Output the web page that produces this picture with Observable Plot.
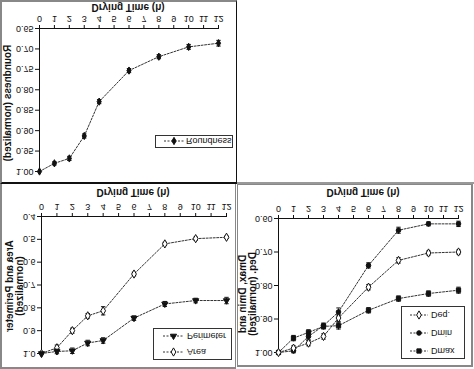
<!DOCTYPE html>
<html><head><meta charset="utf-8">
<script src="https://cdn.jsdelivr.net/npm/d3@7"></script>
<script src="https://cdn.jsdelivr.net/npm/@observablehq/plot@0.6"></script>
<style>
body{margin:0;background:#fff;}
#page{position:relative;width:474px;height:369px;overflow:hidden;transform:scaleY(-1);font-family:"Liberation Sans",Arial,sans-serif;color:#111;}
.box{position:absolute;box-sizing:border-box;}
.plot{position:absolute;}
.xl{position:absolute;font-weight:bold;font-size:10px;white-space:nowrap;transform:translate(-50%,-50%);}
.yl{position:absolute;font-weight:bold;font-size:10px;white-space:nowrap;text-align:center;line-height:10px;transform:translate(-50%,-50%) rotate(-90deg);}
.legend{position:absolute;box-sizing:border-box;border:1px solid #333;background:#fff;font-size:9px;}
.legend .it{position:absolute;left:0;height:10px;display:flex;align-items:center;white-space:nowrap;}
</style></head><body><div id="page"></div>
<script>
// ---- data ----
const time = [0, 1, 2, 3, 4, 6, 8, 10, 12];
const xTicks = [0,1,2,3,4,5,6,7,8,9,10,11,12];

const roundness    = [1.000, 0.980, 0.968, 0.913, 0.829, 0.753, 0.719, 0.695, 0.686];
const roundnessErr = [0.000, 0.004, 0.005, 0.005, 0.005, 0.005, 0.005, 0.006, 0.007];
const roundnessTicks = [0.65, 0.70, 0.75, 0.80, 0.85, 0.90, 0.95, 1.00];

const area         = [1.000, 0.975, 0.900, 0.835, 0.813, 0.652, 0.520, 0.497, 0.491];
const areaErr      = [0.000, 0.012, 0.011, 0.010, 0.018, 0.008, 0.007, 0.007, 0.005];
const perimeter    = [1.000, 0.991, 0.988, 0.954, 0.943, 0.845, 0.783, 0.768, 0.768];
const perimeterErr = [0.000, 0.010, 0.012, 0.012, 0.012, 0.010, 0.011, 0.010, 0.014];
const areaTicks = [0.4, 0.5, 0.6, 0.7, 0.8, 0.9, 1.0];

const dmax    = [1.000, 0.957, 0.940, 0.922, 0.920, 0.874, 0.839, 0.824, 0.814];
const dmaxErr = [0.000, 0.008, 0.008, 0.008, 0.010, 0.008, 0.008, 0.008, 0.009];
const dmin    = [1.000, 0.995, 0.952, 0.920, 0.879, 0.740, 0.635, 0.616, 0.616];
const dminErr = [0.000, 0.006, 0.010, 0.008, 0.012, 0.008, 0.009, 0.006, 0.008];
const deq     = [1.000, 0.987, 0.972, 0.952, 0.897, 0.805, 0.725, 0.703, 0.700];
const deqErr  = [0.000, 0.007, 0.008, 0.008, 0.010, 0.008, 0.008, 0.006, 0.006];
const dTicks = [0.60, 0.70, 0.80, 0.90, 1.00];

// ---- helpers ----
const page = document.getElementById("page");
const cap = {draw(ctx, size){ const w = Math.sqrt(size/Math.PI); ctx.moveTo(-w,0); ctx.lineTo(w,0); }};
const FONT = '"Liberation Sans", Arial, sans-serif';
const symbols = {circle:d3.symbolCircle, square:d3.symbolSquare, diamond:d3.symbolDiamond, triangle:d3.symbolTriangle};

function rows(values, errs){ return time.map((t,i)=>({t, v: values[i], e: errs[i]})); }

function seriesMarks(s){
  const d = rows(s.values, s.errs);
  const withErr = d.filter(r=>r.e>0);
  return [
    Plot.line(d, {x:"t", y:"v", stroke:"#333", strokeWidth:1, strokeDasharray:"2,1.5"}),
    Plot.ruleX(withErr, {x:"t", y1:r=>r.v-r.e, y2:r=>r.v+r.e, stroke:"#111", strokeWidth:1}),
    Plot.dot(withErr, {x:"t", y:r=>r.v-r.e, symbol:cap, r:2.2, stroke:"#111", fill:"none", strokeWidth:1}),
    Plot.dot(withErr, {x:"t", y:r=>r.v+r.e, symbol:cap, r:2.2, stroke:"#111", fill:"none", strokeWidth:1}),
    Plot.dot(d, {x:"t", y:"v", symbol:s.symbol, r:s.r, fill:s.fill, stroke:"#111", strokeWidth:1})
  ];
}

function panel(o){
  const chart = Plot.plot({
    width:o.width, height:o.height,
    marginLeft:o.mL, marginRight:o.mR, marginTop:o.mT, marginBottom:o.mB,
    style:{fontFamily:FONT, fontSize:"9px", color:"#111", background:"transparent", overflow:"visible"},
    x:{domain:[0,12]},
    y:{domain:o.yDomain},
    marks:[
      Plot.axisX({ticks:xTicks, tickSize:4, tickPadding:2, label:null, tickFormat:d3.format("d")}),
      Plot.axisY({ticks:o.yTicks, tickSize:4, tickPadding:2, label:null, tickFormat:d3.format(o.yFmt)}),
      Plot.ruleX([0], {stroke:"#111"}),
      Plot.ruleY([o.yDomain[0]], {stroke:"#111"}),
      ...o.series.flatMap(seriesMarks)
    ]
  });
  chart.classList.add("plot");
  chart.style.left = o.left + "px";
  chart.style.top = o.top + "px";
  page.appendChild(chart);
}

function div(cls, css, html){
  const e = document.createElement("div");
  e.className = cls; e.style.cssText = css; if (html) e.innerHTML = html;
  page.appendChild(e); return e;
}

function legend(left, top, width, height, items, lineX0, lineX1, textX){
  const L = div("legend", `left:${left}px;top:${top}px;width:${width}px;height:${height}px;`);
  items.forEach(it=>{
    const p = d3.symbol(symbols[it.symbol], it.r*it.r*Math.PI)();
    const w = lineX1 - lineX0;
    const e = document.createElement("div");
    e.className = "it";
    e.style.top = (it.y - 5) + "px";
    e.style.left = lineX0 + "px";
    e.innerHTML = `<svg width="${w}" height="10" style="overflow:visible"><line x1="0" x2="${w}" y1="5" y2="5" stroke="#333" stroke-dasharray="2,1.5"/><path d="${p}" transform="translate(${w/2},5)" fill="${it.fill}" stroke="#111"/></svg><span style="margin-left:${textX-lineX1}px">${it.label}</span>`;
    L.appendChild(e);
  });
}

// ---- frames ----
div("box", "left:0;top:0;width:236px;height:186px;border-left:2px solid #888;border-top:2px solid #888;border-right:1px solid #888;");
div("box", "left:0;top:185px;width:237px;height:184px;border-top:2px solid #111;border-right:1px solid #111;border-left:2px solid #888;border-bottom:2px solid #888;");
div("box", "left:237px;top:2px;width:236px;height:184px;border:2px solid #888;border-left:1px solid #888;");
div("box", "left:237px;top:185px;width:237px;height:1px;border-top:2px solid #999;");

// ---- panel: Area and Perimeter (top-left) ----
panel({left:0, top:0, width:235, height:184, mL:41, mR:9, mT:15, mB:32,
  yDomain:[0.4,1.0], yTicks:areaTicks, yFmt:".1f",
  series:[
    {values:area, errs:areaErr, symbol:"diamond", r:2.5, fill:"#fff"},
    {values:perimeter, errs:perimeterErr, symbol:"triangle", r:2.3, fill:"#111"}
  ]});
div("xl", "left:133px;top:177px;", "Drying Time (h)");
div("yl", "left:15px;top:83px;", "Area and Perimeter<br>(normalized)");
legend(153, 9, 79, 32, [
  {label:"Area", symbol:"diamond", r:2.5, fill:"#fff", y:7},
  {label:"Perimeter", symbol:"triangle", r:2.3, fill:"#111", y:23}
], 9, 30, 33);

// ---- panel: Dmax, Dmin, Deq (top-right) ----
panel({left:237, top:0, width:235, height:184, mL:41, mR:14, mT:16, mB:34,
  yDomain:[0.6,1.0], yTicks:dTicks, yFmt:".2f",
  series:[
    {values:dmax, errs:dmaxErr, symbol:"square", r:2.4, fill:"#111"},
    {values:dmin, errs:dminErr, symbol:"circle", r:2.3, fill:"#111"},
    {values:deq, errs:deqErr, symbol:"diamond", r:2.5, fill:"#fff"}
  ]});
div("xl", "left:363px;top:177px;", "Drying Time (h)");
div("yl", "left:248px;top:75px;", "Dmax, Dmin and<br>Deq. (normalized)");
legend(401, 10, 64, 53, [
  {label:"Dmax", symbol:"square", r:2.4, fill:"#111", y:7},
  {label:"Dmin", symbol:"circle", r:2.3, fill:"#111", y:25},
  {label:"Deq.", symbol:"diamond", r:2.5, fill:"#fff", y:43}
], 8, 26, 29);

// ---- panel: Roundness (bottom-left) ----
panel({left:0, top:185, width:236, height:184, mL:39, mR:18, mT:12, mB:29,
  yDomain:[0.65,1.0], yTicks:roundnessTicks, yFmt:".2f",
  series:[
    {values:roundness, errs:roundnessErr, symbol:"diamond", r:2.2, fill:"#111"}
  ]});
div("xl", "left:128px;top:362px;", "Drying Time (h)");
div("yl", "left:8px;top:266px;", "Roundness (normalized)");
legend(155, 221, 78, 13, [
  {label:"Roundness", symbol:"diamond", r:2.2, fill:"#111", y:6}
], 8, 28, 30);
</script></body></html>
